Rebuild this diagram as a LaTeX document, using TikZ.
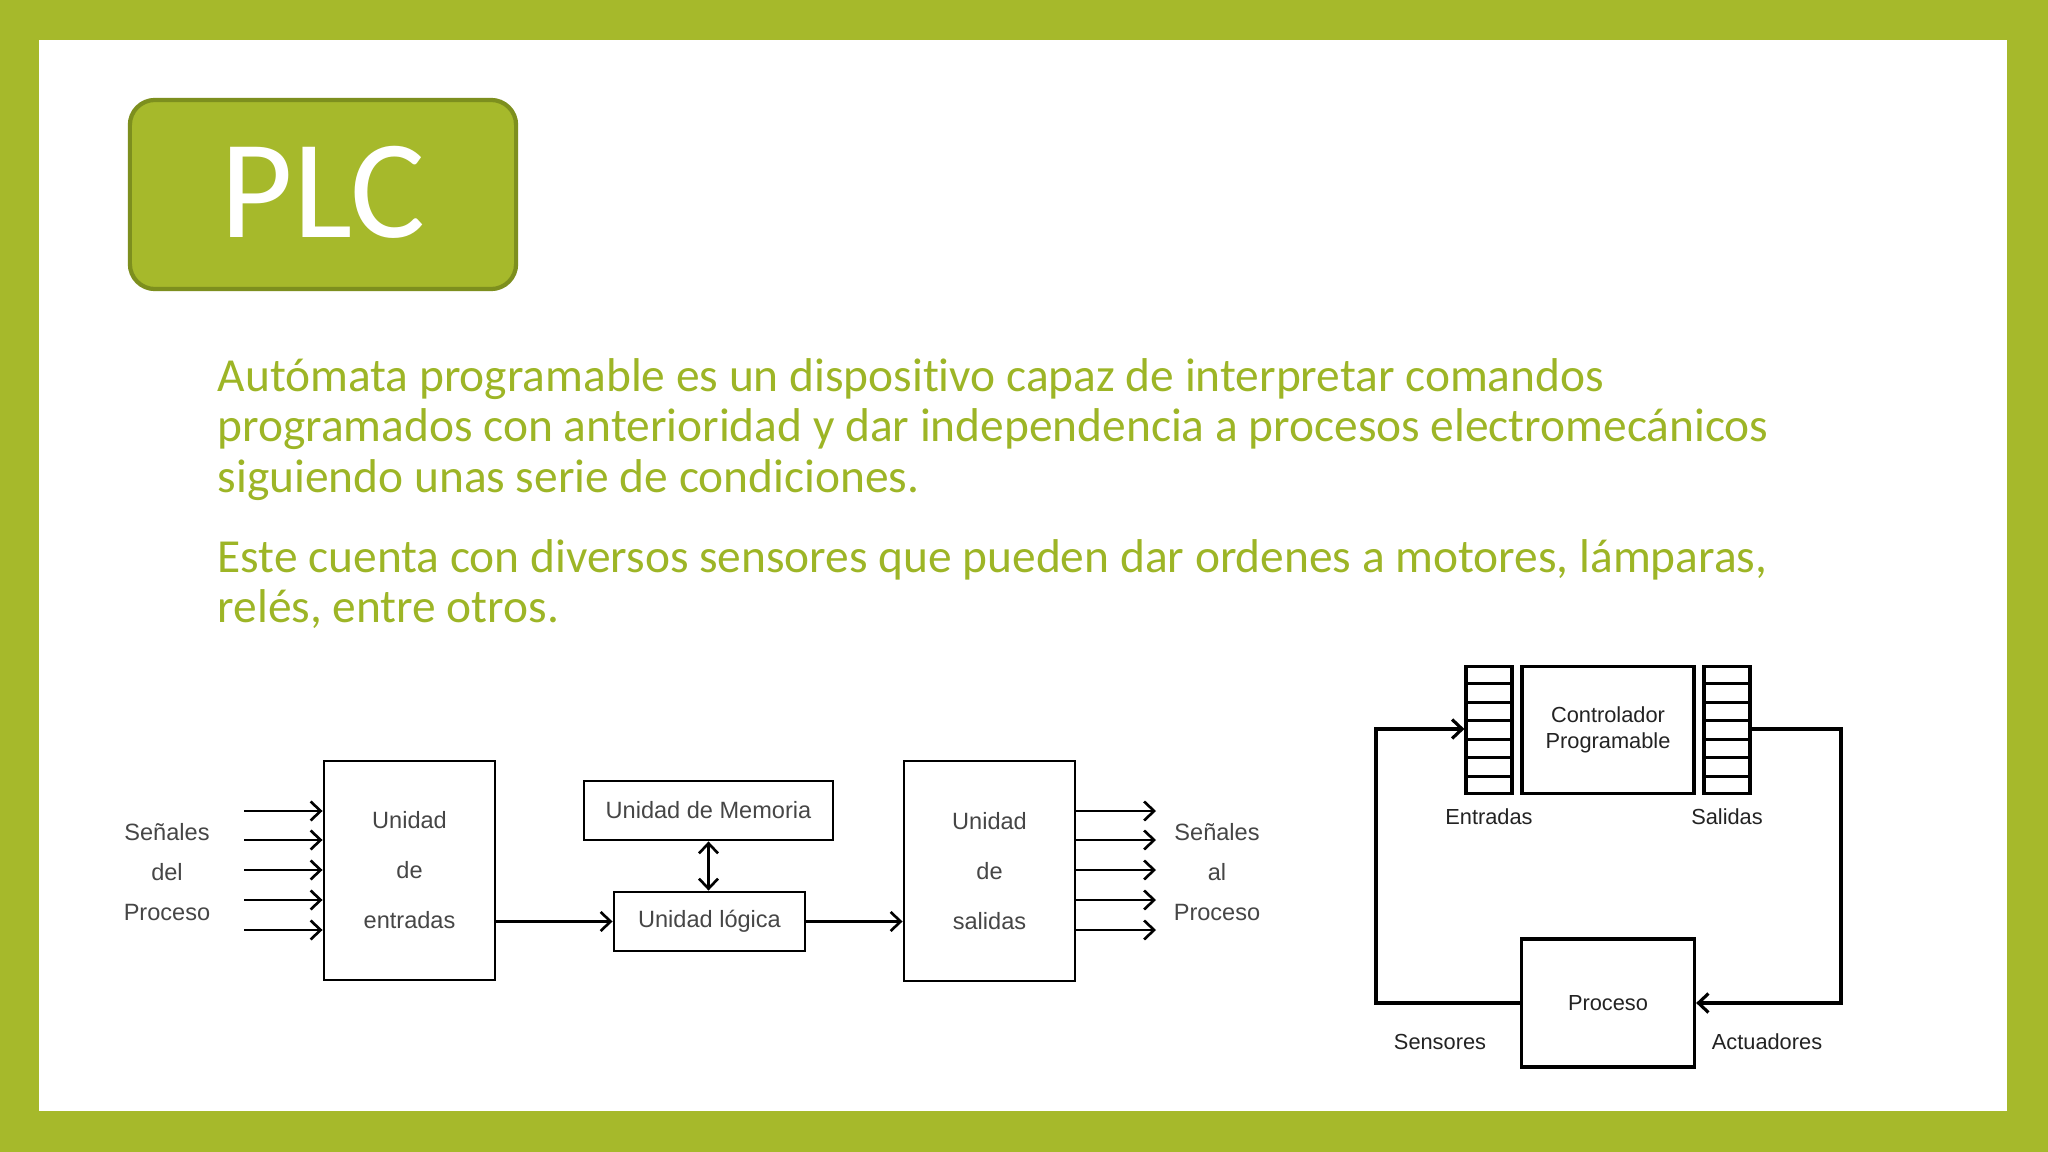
\documentclass[tikz,border=0pt]{standalone}
\usepackage{fontspec}
\setmainfont{Carlito}[Ligatures={NoCommon}]
\newfontfamily\diagfont{Liberation Sans}
\usetikzlibrary{arrows.meta,positioning,calc}

\definecolor{slidegreen}{RGB}{166,185,43}
\definecolor{textgreen}{RGB}{157,181,38}
\definecolor{edgegreen}{RGB}{125,143,30}
\definecolor{inkgray}{RGB}{70,70,70}
\definecolor{inkdark}{RGB}{35,35,35}

\begin{document}
\begin{tikzpicture}[
        x=0.01cm, y=-0.01cm,
        >={Straight Barb[length=0.1cm,width=0.19cm]},
        titlebox/.style={
            draw=edgegreen,
            line width=1.2pt,
            fill=slidegreen,
            rounded corners=0.25cm,
            minimum width=3.86cm,
            minimum height=1.89cm,
            text=white,
            font=\fontsize{40}{40}\selectfont
        },
        para/.style={anchor=base west, inner sep=0pt, text=textgreen,
            font=\fontsize{13.48}{16}\selectfont},
        unit/.style={
            draw,
            line width=0.8pt,
            align=center,
            inner sep=0pt,
            text=inkgray,
            font=\diagfont\fontsize{6.7}{14.2}\selectfont
        },
        small/.style={unit, font=\diagfont\fontsize{6.7}{8}\selectfont},
        siglbl/.style={align=center, inner sep=0pt, text=inkgray,
            font=\diagfont\fontsize{6.7}{11.4}\selectfont},
        block/.style={
            draw,
            line width=0.9pt,
            align=center,
            inner sep=0pt,
            text=inkdark,
            font=\diagfont\fontsize{6.2}{7.4}\selectfont
        },
        stack/.style={draw, line width=0.9pt, inner sep=0pt,
            minimum width=0.46cm, minimum height=1.27cm},
        rlbl/.style={inner sep=0pt, text=inkdark,
            font=\diagfont\fontsize{6.2}{7.4}\selectfont},
        sig/.style={->, line width=0.75pt},
        loop/.style={->, line width=0.9pt}
    ]
        % slide frame
        \fill[slidegreen] (0,0) rectangle (2048,1152);
        \fill[white] (39,40) rectangle (2007,1111);

        \node[titlebox] (plc) at (323,194.5) {\raisebox{0.05cm}{PLC}};

        \node[para] (p1) at (217,392) {Autómata programable es un dispositivo capaz de interpretar comandos};
        \node[para] (p2) at (217,442) {programados con anterioridad y dar independencia a procesos electromecánicos};
        \node[para] (p3) at (217,493) {siguiendo unas serie de condiciones.};
        \node[para] (p4) at (217,573) {Este cuenta con diversos sensores que pueden dar ordenes a motores, lámparas,};
        \node[para] (p5) at (217,623) {relés, entre otros.};

        % block diagram
        \node[unit, minimum width=1.71cm, minimum height=2.19cm] (ent) at (409.5,870.5) {Unidad\\de\\entradas};
        \node[small, minimum width=2.49cm, minimum height=0.59cm] (mem) at (708.5,810.5) {Unidad de Memoria};
        \node[small, minimum width=1.91cm, minimum height=0.59cm] (log) at (709.5,921.5) {Unidad lógica};
        \node[unit, minimum width=1.71cm, minimum height=2.20cm] (sal) at (989.5,871) {Unidad\\de\\salidas};
        \node[siglbl] (senin) at (167,872) {Señales\\del\\Proceso};
        \node[siglbl] (senout) at (1217,872) {Señales\\al\\Proceso};

        \foreach \y/\i in {811/1,840/2,870/3,900/4,930/5} {
            \coordinate (in\i) at (244,\y);
            \coordinate (out\i) at (1156,\y);
            \draw[sig] (in\i) -- (in\i -| ent.west);
            \draw[sig] (out\i -| sal.east) -- (out\i);
        }
        \draw[sig] (ent.east |- log.west) -- (log.west);
        \draw[sig] (log.east) -- (sal.west |- log.east);
        \draw[sig, <->] (mem.south) -- (mem.south |- log.north);

        % control loop
        \node[block, minimum width=1.72cm, minimum height=1.27cm] (ctrl) at (1608,730) {Controlador\\Programable};
        \node[stack] (entst) at (1489,730) {};
        \node[stack] (salst) at (1727,730) {};
        \foreach \k in {1,...,6} {
            \draw[line width=0.9pt] ($(entst.north west)!\k/7!(entst.south west)$) -- ($(entst.north east)!\k/7!(entst.south east)$);
            \draw[line width=0.9pt] ($(salst.north west)!\k/7!(salst.south west)$) -- ($(salst.north east)!\k/7!(salst.south east)$);
        }
        \node[rlbl, below=0.13cm of entst] (entlbl) {Entradas};
        \node[rlbl, below=0.13cm of salst] (sallbl) {Salidas};
        \node[block, minimum width=1.73cm, minimum height=1.28cm] (proc) at (1608,1003) {Proceso};
        \node[rlbl] (sens) at (1440,1042) {Sensores};
        \node[rlbl] (act) at (1767,1042) {Actuadores};

        \coordinate (lft) at (1376,729);
        \coordinate (rgt) at (1841,729);
        \draw[loop] (proc.west) -| (lft) -- (lft -| entst.west);
        \draw[loop] (salst.east |- rgt) -- (rgt) |- (proc.east);
    \end{tikzpicture}
\end{document}
